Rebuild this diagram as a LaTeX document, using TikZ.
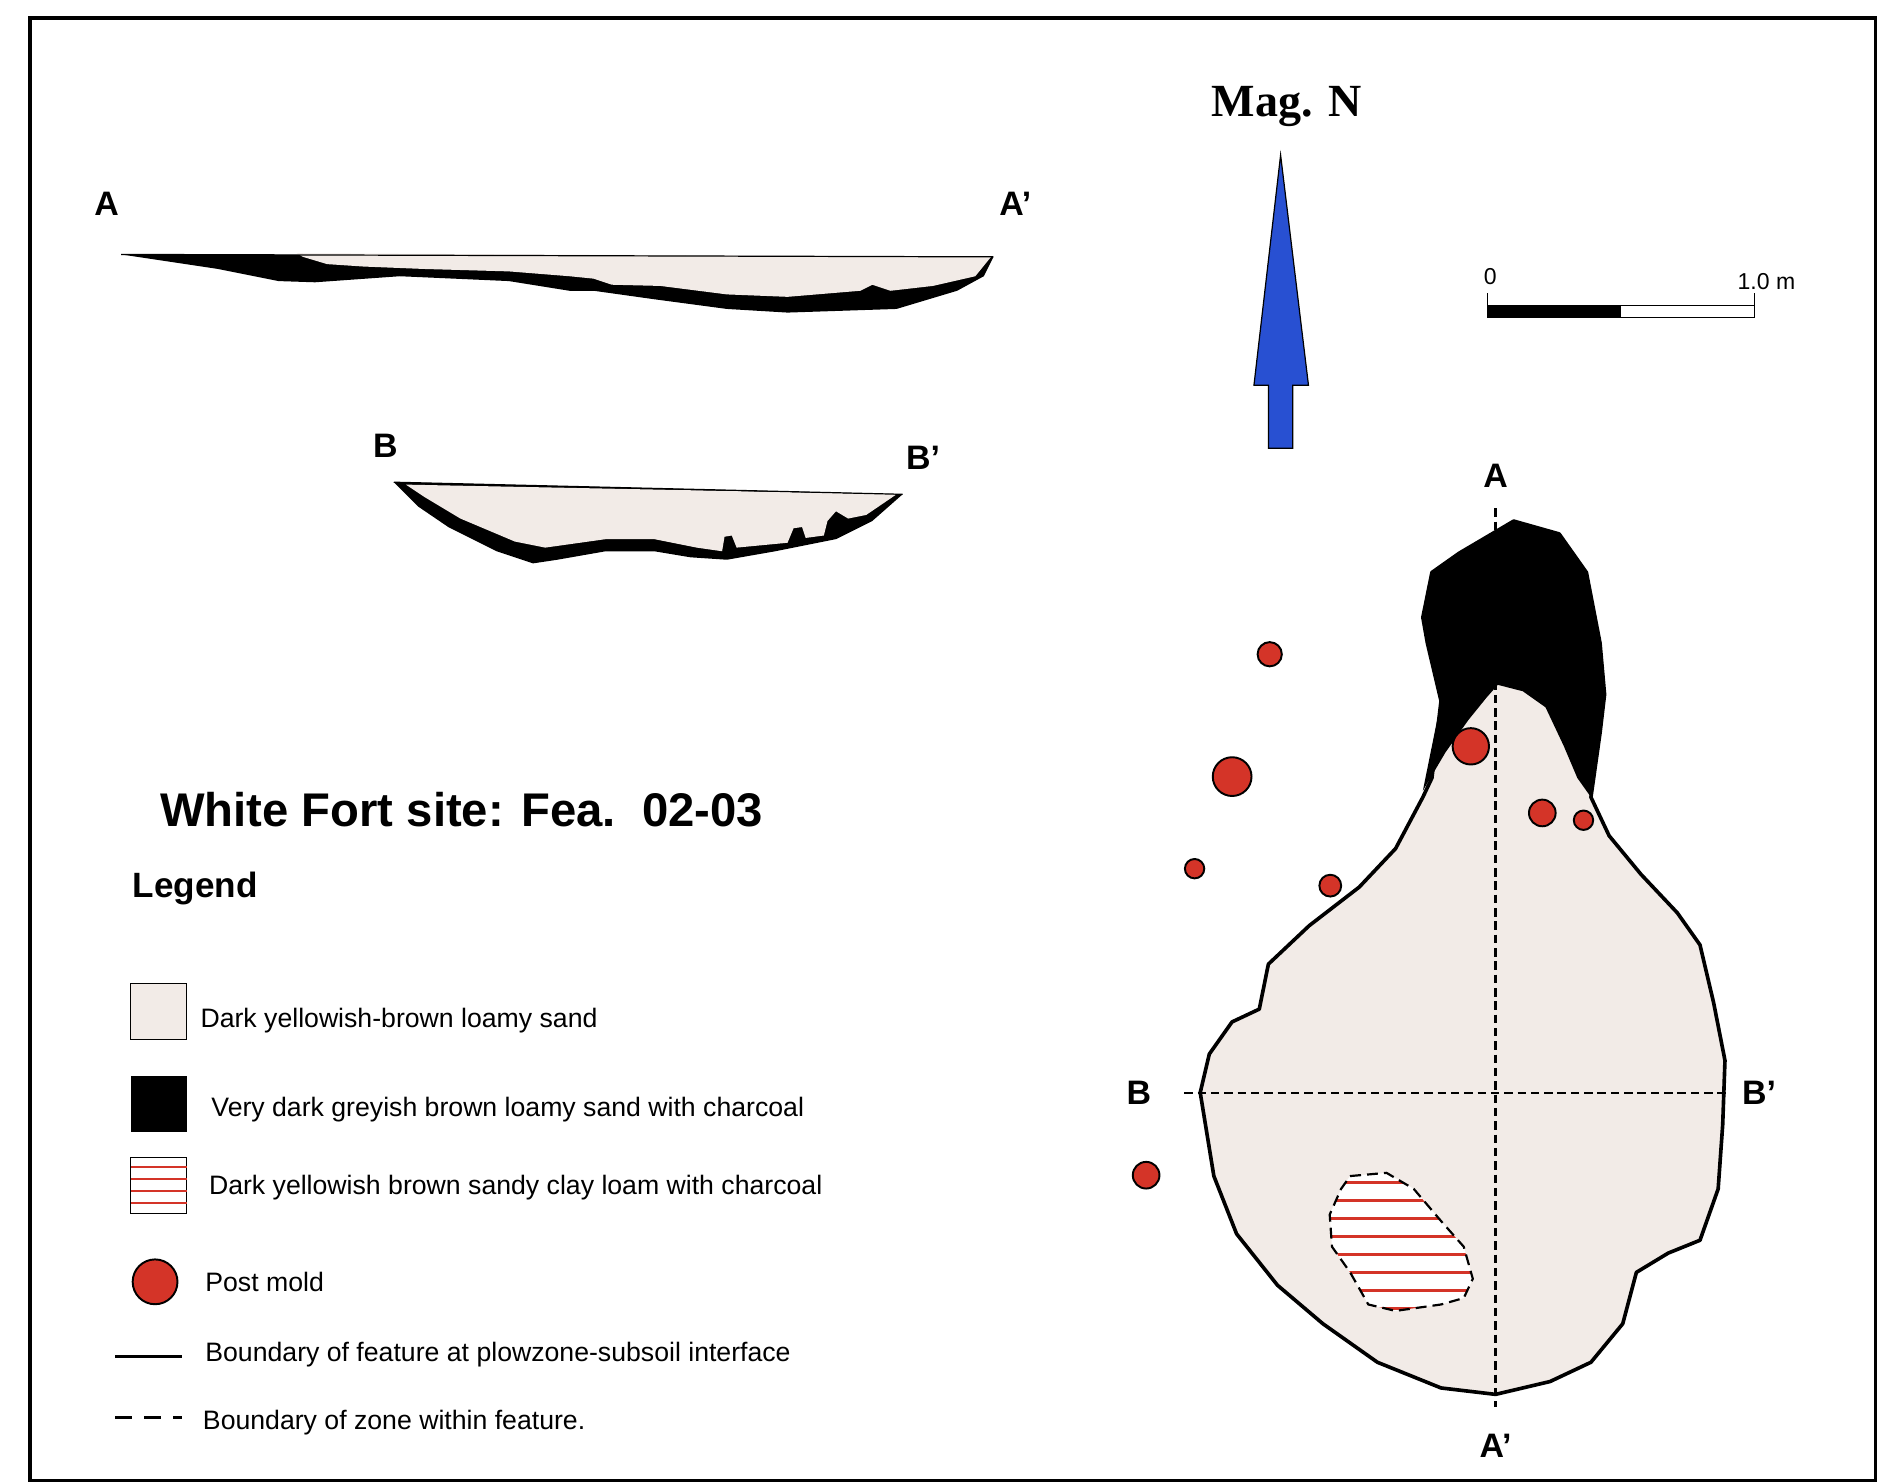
\documentclass[tikz,border=0pt]{standalone}
\usepackage{fontspec}
\setmainfont{Liberation Sans}
\newfontfamily\serifb{Liberation Serif}
\definecolor{soil}{RGB}{242,235,231}
\definecolor{pmred}{RGB}{212,52,40}
\definecolor{arrowblue}{RGB}{40,80,210}
\begin{document}
\begin{tikzpicture}[x=1pt,y=-1pt,
  lbl/.style={font=\fontsize{28}{30}\selectfont\bfseries},
  leg/.style={font=\fontsize{22}{24}\selectfont,anchor=west},
  pm/.style={fill=pmred,draw=black,line width=1.6pt},
  cut/.style={line width=1.8pt,dash pattern=on 7pt off 4pt}]
\useasboundingbox (0,0) rectangle (1560,1224);
\fill[white] (0,0) rectangle (1560,1224);
\draw[line width=3pt] (25,15) rectangle (1548,1222);
% profile A-A'
\node[lbl] (lA) at (88,168) {A};
\node[lbl] (lAp) at (838,168) {A'};
\fill (100,210) -- (820,212) -- (812,228) -- (790,240) -- (740,255) -- (650,258) -- (600,255) -- (540,247) -- (490,240) -- (470,240) -- (420,232) -- (330,228) -- (260,233) -- (230,232) -- (180,222) -- cycle;
\fill[soil] (245,209) -- (818,212) -- (805,228) -- (770,236) -- (735,240) -- (720,235) -- (710,240) -- (650,245) -- (600,243) -- (545,236) -- (505,235) -- (490,230) -- (470,228) -- (420,224) -- (350,222) -- (300,220) -- (270,218) -- (250,212) -- cycle;
\draw[line width=1pt] (100,210) -- (820,212);
% profile B-B'
\node[lbl] (lB) at (318,368) {B};
\node[lbl] (lBp) at (762,378) {B'};
\fill (325,398) -- (745,408) -- (720,430) -- (690,445) -- (640,455) -- (600,462) -- (570,460) -- (540,455) -- (500,455) -- (460,462) -- (440,465) -- (410,455) -- (370,435) -- (345,418) -- cycle;
\fill[soil] (335,400) -- (740,408) -- (715,425) -- (700,428) -- (690,422) -- (683,430) -- (680,442) -- (665,444) -- (662,435) -- (655,436) -- (650,448) -- (608,452) -- (604,442) -- (598,443) -- (596,455) -- (575,452) -- (540,445) -- (500,445) -- (450,452) -- (425,447) -- (380,428) -- (350,410) -- cycle;
\draw[line width=1pt] (325,398) -- (745,408);
% north arrow
\node[font=\fontsize{38}{40}\selectfont\serifb\bfseries] (mag) at (1062,88) {Mag. N};
\draw[fill=arrowblue,line width=1pt] (1057,128) -- (1080,318) -- (1067,318) -- (1067,370) -- (1047,370) -- (1047,318) -- (1035,318) -- cycle;
% scale bar
\node[font=\fontsize{19}{20}\selectfont] (s0) at (1230,228) {0};
\node[font=\fontsize{19}{20}\selectfont] (s1) at (1458,232) {1.0 m};
\fill (1228,252) rectangle (1338,262);
\draw[line width=1pt] (1228,252) rectangle (1448,262);
\draw[line width=1pt] (1228,262) -- (1228,242) (1448,262) -- (1448,242);
% title and legend
\node[font=\fontsize{39}{40}\selectfont\bfseries] (title) at (381,668) {White Fort site: Fea.\ \ 02-03};
\node[font=\fontsize{29}{30}\selectfont\bfseries] (legend) at (161,733) {Legend};
\draw[fill=soil,line width=0.8pt] (108,812) rectangle (154,858);
\node[leg] (t1) at (162,842) {Dark yellowish-brown loamy sand};
\fill (108,888) rectangle (154,934);
\node[leg] (t2) at (171,916) {Very dark greyish brown loamy sand with charcoal};
\draw[line width=0.8pt] (108,955) rectangle (154,1002);
\foreach \y in {963,973,983,993} \draw[pmred,line width=2pt] (108,\y) -- (154,\y);
\node[leg] (t3) at (169,980) {Dark yellowish brown sandy clay loam with charcoal};
\node[pm,circle,minimum size=37pt,inner sep=0pt] (pmleg) at (128,1058) {};
\node[leg] (t4) at (166,1058) {Post mold};
\draw[line width=2.5pt] (95,1120) -- (150,1120);
\node[leg] (t5) at (166,1118) {Boundary of feature at plowzone-subsoil interface};
\draw[line width=2pt,dash pattern=on 14pt off 10pt] (95,1170) -- (150,1170);
\node[leg] (t6) at (164,1174) {Boundary of zone within feature.};
% plan
\begin{scope}[shift={(904.4,371.8)},xscale=0.375,yscale=0.53]
\draw[fill=soil,line width=3pt,line join=round] (920,110) -- (1020,130) -- (1080,190) -- (1110,300) -- (1120,380) -- (1110,440) -- (1090,540) -- (1130,600) -- (1200,660) -- (1280,720) -- (1330,770) -- (1360,860) -- (1385,950) -- (1380,1050) -- (1370,1150) -- (1330,1230) -- (1260,1250) -- (1190,1280) -- (1160,1360) -- (1090,1420) -- (1000,1450) -- (880,1470) -- (760,1460) -- (620,1420) -- (500,1360) -- (400,1300) -- (310,1220) -- (260,1130) -- (230,1000) -- (250,940) -- (300,890) -- (360,870) -- (380,800) -- (470,740) -- (580,680) -- (660,620) -- (720,540) -- (740,510) -- (760,390) -- (730,300) -- (720,260) -- (740,190) -- (800,160) -- cycle;
\fill (720,530) -- (760,390) -- (730,300) -- (720,260) -- (740,190) -- (800,160) -- (920,110) -- (1020,130) -- (1080,190) -- (1110,300) -- (1120,380) -- (1110,440) -- (1090,540) -- (1060,510) -- (1030,460) -- (990,400) -- (940,375) -- (885,365) -- (860,385) -- (820,420) -- (770,470) -- cycle;
\begin{scope}
\clip (560,1130) -- (640,1125) -- (700,1150) -- (760,1200) -- (810,1240) -- (830,1290) -- (810,1320) -- (760,1330) -- (660,1340) -- (600,1330) -- (560,1280) -- (520,1240) -- (515,1190) -- (540,1150) -- cycle;
\fill[white] (500,1100) rectangle (850,1350);
\foreach \y in {1140,1168,...,1340} \draw[pmred,line width=2.2pt] (500,\y) -- (850,\y);
\end{scope}
\draw[line width=1.8pt,dash pattern=on 9pt off 5pt] (560,1130) -- (640,1125) -- (700,1150) -- (760,1200) -- (810,1240) -- (830,1290) -- (810,1320) -- (760,1330) -- (660,1340) -- (600,1330) -- (560,1280) -- (520,1240) -- (515,1190) -- (540,1150) -- cycle;
\coordinate (vt) at (880,90); \coordinate (vb) at (880,1490);
\coordinate (hl) at (195,1000); \coordinate (hr) at (1395,1000);
\draw[cut] (vt) -- (vb);
\draw[cut] (hl) -- (hr);
\node[lbl] (pA) at (880,40) {A};
\node[lbl] (pAp) at (880,1550) {A'};
\node[lbl] (pB) at (95,1000) {B};
\node[lbl] (pBp) at (1460,1000) {B'};
\end{scope}
\foreach \x/\y/\r [count=\i] in {1048/540/10,1017/641/16,1214/616/15,1273/671/11,1307/677/8,986/717/8,1098/731/9,946/970/11}
  \node[pm,circle,minimum size=2*\r pt,inner sep=0pt] (m\i) at (\x,\y) {};
\end{tikzpicture}
\end{document}
